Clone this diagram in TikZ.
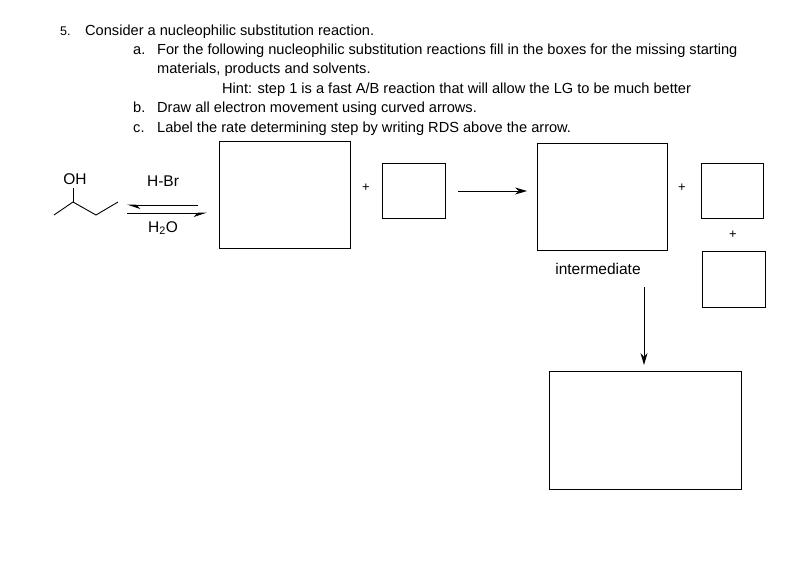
\documentclass[tikz,border=0pt]{standalone}
\usepackage{fontspec}
\setmainfont{Liberation Sans}
\usetikzlibrary{arrows.meta}
\begin{document}
\begin{tikzpicture}[x=1pt,y=-1pt,
  box/.style={draw,line width=0.8pt},
  txt/.style={anchor=base west,inner sep=0pt,font=\fontsize{14.6}{16}\selectfont},
  lbl/.style={inner sep=0pt,font=\fontsize{15.5}{17}\selectfont},
  pl/.style={inner sep=0pt,font=\fontsize{13}{14}\selectfont},
  bond/.style={line width=0.9pt},
  rarr/.style={line width=0.9pt,-{Stealth[length=12pt,width=7pt]}}]
\useasboundingbox (0,0) rectangle (789,571);
\node[txt] (n5) at (60,35) {\fontsize{12.5}{14}\selectfont 5.};
\node[txt] (t1) at (85,35) {Consider a nucleophilic substitution reaction.};
\node[txt] (na) at (133,54) {a.};
\node[txt] (ta) at (157,54) {For the following nucleophilic substitution reactions fill in the boxes for the missing starting};
\node[txt] (ta2) at (157,73) {materials, products and solvents.};
\node[txt] (th) at (222,93) {Hint: step 1 is a fast A/B reaction that will allow the LG to be much better};
\node[txt] (nb) at (133,112) {b.};
\node[txt] (tb) at (157,112) {Draw all electron movement using curved arrows.};
\node[txt] (nc) at (133,132) {c.};
\node[txt] (tc) at (157,132) {Label the rate determining step by writing RDS above the arrow.};
% molecule
\coordinate (m1) at (54,215);
\coordinate (m2) at (73,202);
\coordinate (m3) at (96,215);
\coordinate (m4) at (118,202);
\coordinate (mo) at (73,188);
\draw[bond] (m1)--(m2)--(m3)--(m4);
\draw[bond] (m2)--(mo);
\node[lbl] (oh) at (75,179) {OH};
% equilibrium arrows
\coordinate (a1) at (198,205); \coordinate (a2) at (127,205);
\coordinate (b1) at (127,213); \coordinate (b2) at (207,213);
\draw[line width=0.9pt,-{Stealth[length=12pt,width=8pt,left]}] (a1)--(a2);
\draw[line width=0.9pt,-{Stealth[length=12pt,width=8pt,right]}] (b1)--(b2);
\node[lbl] (hbr) at (163,181) {H-Br};
\node[lbl] (h2o) at (163,228) {H\textsubscript{2}O};
% boxes
\node[box,minimum width=131pt,minimum height=107pt] (B1) at (284.5,194.5) {};
\node[pl] (p1) at (366,188) {+};
\node[box,minimum width=63pt,minimum height=55pt] (B2) at (413.5,190.5) {};
\node[box,minimum width=130pt,minimum height=107pt] (B3) at (602,196.5) {};
\coordinate (r1) at (458,191);
\draw[rarr] (r1) -- (527,191);
\node[lbl] (int) at (598,269) {intermediate};
\node[pl] (p2) at (682,188) {+};
\node[box,minimum width=62pt,minimum height=55pt] (B4) at (732,190.5) {};
\node[pl] (p3) at (733,235) {+};
\node[box,minimum width=63pt,minimum height=56pt] (B5) at (733.5,279) {};
\node[box,minimum width=192pt,minimum height=118pt] (B6) at (645,430) {};
\coordinate (d1) at (644,287);
\draw[rarr] (d1) -- (644,365);
\end{tikzpicture}
\end{document}
